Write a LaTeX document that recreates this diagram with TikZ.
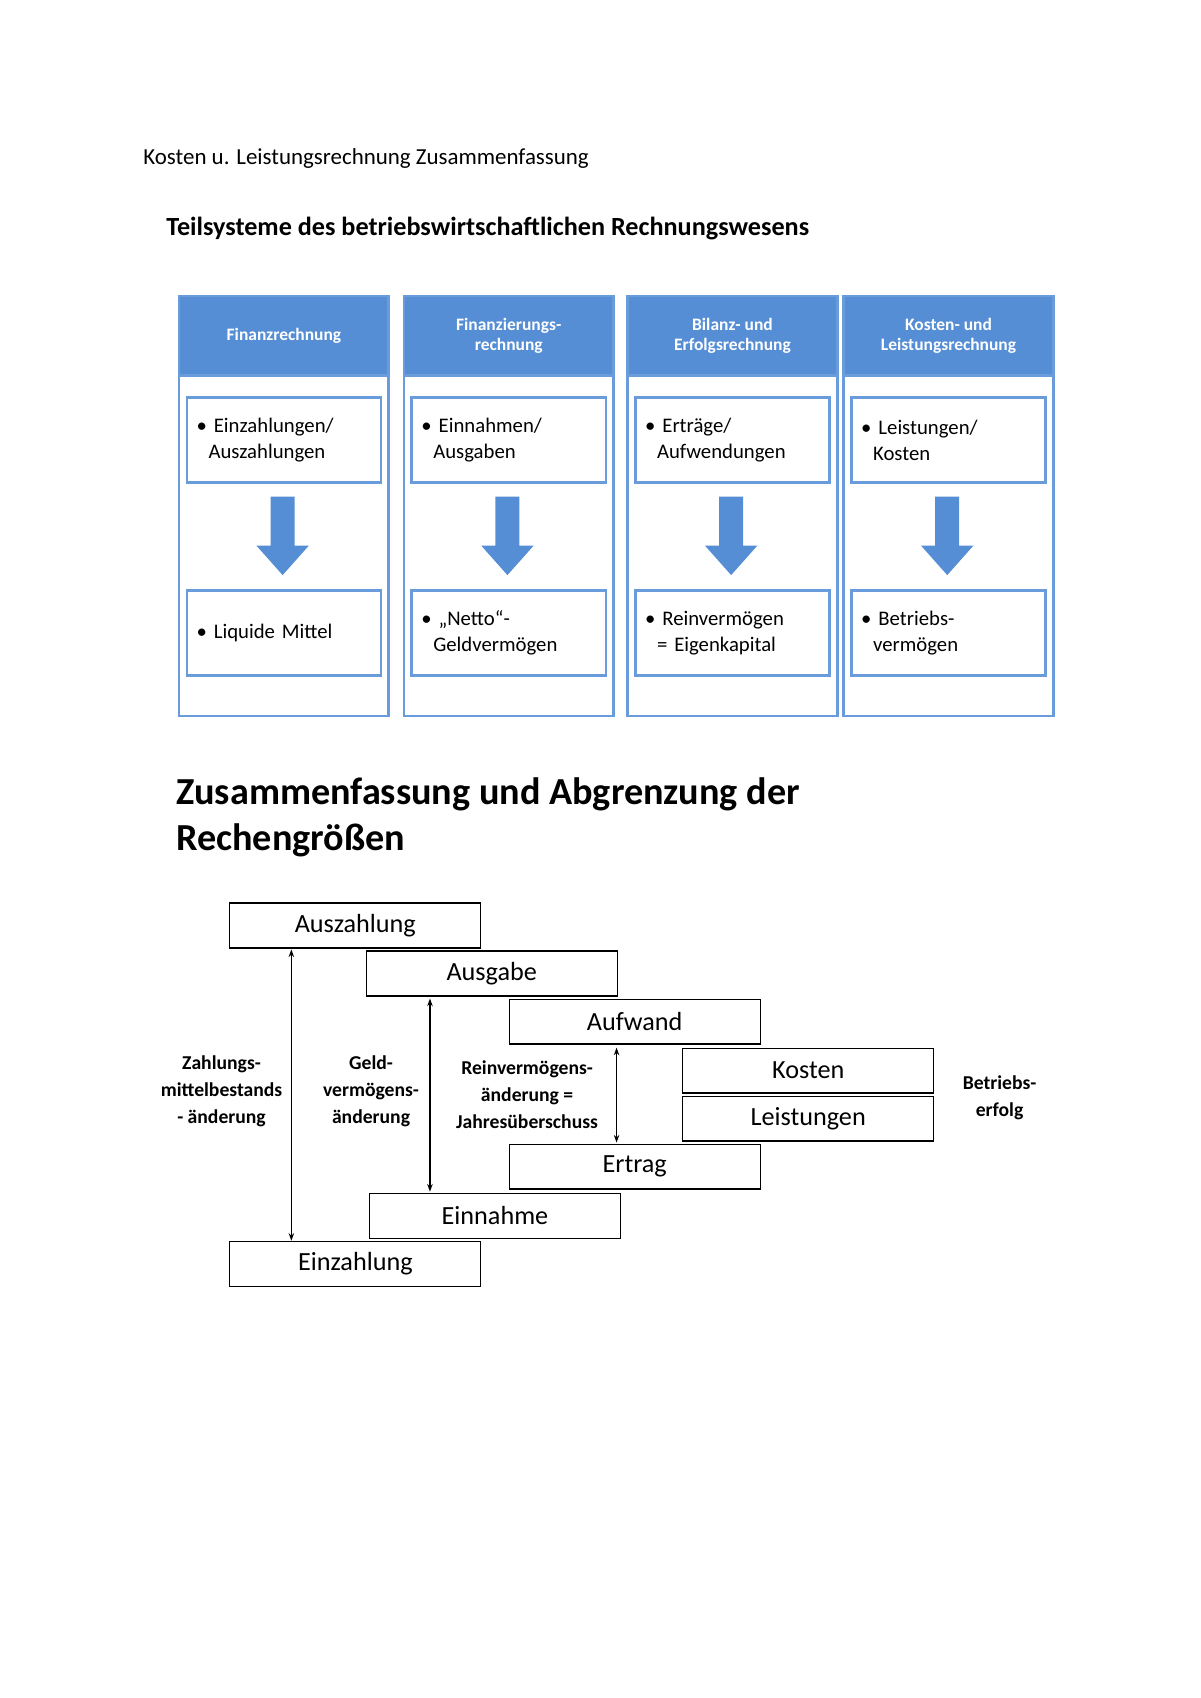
\documentclass[tikz,border=0pt]{standalone}
\usepackage{fontspec}
\setmainfont{Carlito}
\usetikzlibrary{arrows.meta,positioning}
\definecolor{hdblue}{HTML}{558ED5}
\definecolor{lnblue}{HTML}{6A9BDA}
\tikzset{
  col/.style={draw=lnblue,line width=1.2pt,minimum width=96pt,minimum height=192.5pt,anchor=north west,inner sep=0pt},
  head/.style={fill=hdblue,draw=lnblue,line width=1.2pt,minimum width=96pt,minimum height=36.5pt,anchor=north west,text=white,font=\bfseries\fontsize{8}{9.5}\selectfont,align=center,inner sep=0pt},
  item/.style={draw=lnblue,line width=1.2pt,minimum width=89pt,minimum height=39pt,anchor=north west,font=\fontsize{9.5}{12}\selectfont,align=left,text width=80pt,inner sep=4pt},
  flow/.style={hdblue,fill=hdblue},
  rg/.style={draw,line width=0.6pt,minimum width=115pt,minimum height=20.5pt,anchor=north west,font=\fontsize{12}{14}\selectfont,inner sep=0pt},
  lbl/.style={font=\bfseries\fontsize{9}{12.5}\selectfont,align=center},
  span/.style={<->,>={Stealth[length=3.5pt,width=2.5pt]},line width=0.5pt}
}
\begin{document}
\begin{tikzpicture}[x=0.5pt,y=-0.5pt]
\useasboundingbox (0,0) rectangle (1100,1556);

% Titles
\node[anchor=west,font=\fontsize{10.5}{12}\selectfont,inner sep=0pt] (title) at (131,145) {Kosten u. Leistungsrechnung Zusammenfassung};
\node[anchor=west,font=\bfseries\fontsize{12}{14}\selectfont,inner sep=0pt] (sub) at (152,209) {Teilsysteme des betriebswirtschaftlichen Rechnungswesens};

% Columns
\foreach \x/\n/\h/\a/\b in {163/c1/{Finanzrechnung}/{Einzahlungen/\\\hspace*{1.2ex}Auszahlungen}/{Liquide Mittel},
  369/c2/{Finanzierungs-\\rechnung}/{Einnahmen/\\\hspace*{1.2ex}Ausgaben}/{„Netto“-\\\hspace*{1.2ex}Geldvermögen},
  574/c3/{Bilanz- und\\Erfolgsrechnung}/{Erträge/\\\hspace*{1.2ex}Aufwendungen}/{Reinvermögen\\\hspace*{1.2ex}= Eigenkapital},
  772/c4/{Kosten- und\\Leistungsrechnung}/{Leistungen/\\\hspace*{1.2ex}Kosten}/{Betriebs-\\\hspace*{1.2ex}vermögen}}{
  \node[col] (\n) at (\x,270) {};
  \node[head] (\n h) at (\x,270) {\h};
  \node[item] (\n a) at (\x+7,363) {\textbullet\ \a};
  \node[item] (\n b) at (\x+7,540) {\textbullet\ \b};
  \fill[flow] (\x+85,455) -- (\x+107,455) -- (\x+107,500) -- (\x+120,500) -- (\x+96,527) -- (\x+72,500) -- (\x+85,500) -- cycle;
}

% Second part
\node[anchor=north west,font=\bfseries\fontsize{17.5}{21}\selectfont,align=left,inner sep=0pt] (sub2) at (161,712) {Zusammenfassung und Abgrenzung der\\Rechengrößen};

\node[rg] (auszahlung) at (210,827) {Auszahlung};
\node[rg] (ausgabe) at (335,871) {Ausgabe};
\node[rg] (aufwand) at (466,915) {Aufwand};
\node[rg] (kosten) at (625,960) {Kosten};
\node[rg] (leistungen) at (625,1004) {Leistungen};
\node[rg] (ertrag) at (466,1048) {Ertrag};
\node[rg] (einnahme) at (338,1093) {Einnahme};
\node[rg] (einzahlung) at (210,1137) {Einzahlung};

\coordinate (z1) at (267,870);
\coordinate (z2) at (267,1137);
\coordinate (g1) at (394,915);
\coordinate (g2) at (394,1092);
\coordinate (r1) at (565,960);
\coordinate (r2) at (565,1047);
\draw[span] (z1) -- (z2);
\draw[span] (g1) -- (g2);
\draw[span] (r1) -- (r2);

\node[lbl] (zl) at (203,1000) {Zahlungs-\\mittelbestands\\- änderung};
\node[lbl] (gl) at (340,1000) {Geld-\\vermögens-\\änderung};
\node[lbl] (rl) at (483,1003) {Reinvermögens-\\änderung =\\Jahresüberschuss};
\node[lbl] (bl) at (916,1006) {Betriebs-\\erfolg};
\end{tikzpicture}
\end{document}
